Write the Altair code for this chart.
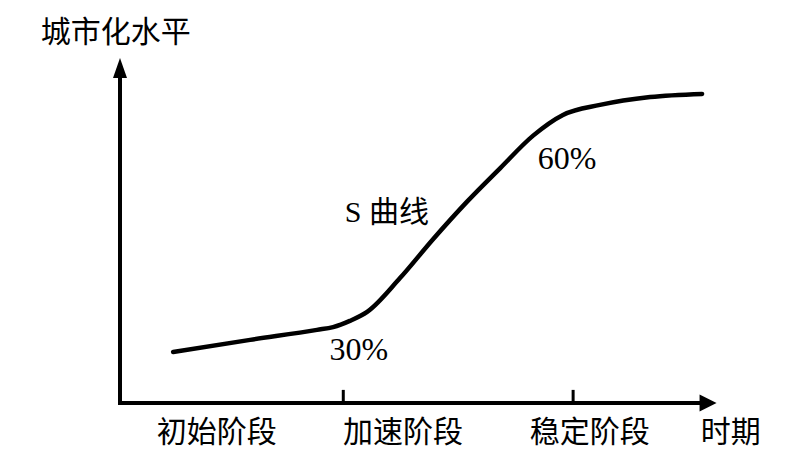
import altair as alt
import pandas as pd

# S-curve of urbanization (schematic): time (0-100) vs urbanization level (0-100)
curve_time = [8.9, 21.8, 33.0, 35.7, 38.5, 41.4, 46.9, 52.4, 58.1, 63.7, 69.2, 74.2, 80.4, 88.8, 97.5]
curve_level = [14.8, 18.3, 21.2, 22.0, 23.8, 26.4, 36.2, 47.4, 58.3, 68.1, 77.5, 83.5, 86.4, 88.7, 89.6]

stage_labels = ["初始阶段", "加速阶段", "稳定阶段"]
stage_label_x = [16.2, 47.4, 78.7]
tick_x = [37.4, 75.9]

pct_labels = ["30%", "60%"]
pct_x = [40.0, 74.9]
pct_y = [15.4, 70.7]

y_title = "城市化水平"
x_title = "时期"
curve_name = "S 曲线"

X_MAX = 100
Y_MAX = 100

xs = alt.Scale(domain=[0, X_MAX], nice=False, zero=False)
ys = alt.Scale(domain=[0, Y_MAX], nice=False, zero=False)

def X(field):
    return alt.X(field, type="quantitative", scale=xs, axis=None)

def Y(field):
    return alt.Y(field, type="quantitative", scale=ys, axis=None)

curve_df = pd.DataFrame({"t": curve_time, "v": curve_level})
curve = alt.Chart(curve_df).mark_line(
    color="black", strokeWidth=4.5, interpolate="monotone", strokeCap="round"
).encode(x=X("t"), y=Y("v"))

axes_df = pd.DataFrame({"x": [0, 0], "y": [0, 0], "x2": [0, 98], "y2": [95, 0]})
axes = alt.Chart(axes_df).mark_rule(color="black", strokeWidth=4, strokeCap="square").encode(
    x=X("x"), y=Y("y"), x2="x2", y2="y2"
)

ticks_df = pd.DataFrame({"x": tick_x, "y": [0, 0], "y2": [3.8, 3.8]})
ticks = alt.Chart(ticks_df).mark_rule(color="black", strokeWidth=3).encode(
    x=X("x"), y=Y("y"), y2="y2"
)

yarrow = alt.Chart(pd.DataFrame({"x": [0], "y": [97.1]})).mark_point(
    shape="M0,-1L-0.7,1L0.7,1Z", filled=True, color="black", opacity=1, size=400
).encode(x=X("x"), y=Y("y"))

xarrow = alt.Chart(pd.DataFrame({"x": [98.5], "y": [0]})).mark_point(
    shape="M1,0L-1,-1L-1,1Z", filled=True, color="black", opacity=1, size=289
).encode(x=X("x"), y=Y("y"))

cjk = "Noto Sans CJK SC"
serif = "Liberation Serif"

stage_df = pd.DataFrame({"x": stage_label_x + [102.3], "y": [-8.7] * 4, "label": stage_labels + [x_title]})
stage_text = alt.Chart(stage_df).mark_text(
    font=cjk, fontSize=30, color="black", align="center", baseline="middle"
).encode(x=X("x"), y=Y("y"), text="label:N")

title_df = pd.DataFrame({"x": [-0.7], "y": [107.2], "label": [y_title]})
title_text = alt.Chart(title_df).mark_text(
    font=cjk, fontSize=30, color="black", align="center", baseline="middle"
).encode(x=X("x"), y=Y("y"), text="label:N")

pct_df = pd.DataFrame({"x": pct_x, "y": pct_y, "label": pct_labels})
pct_text = alt.Chart(pct_df).mark_text(
    font=serif, fontSize=32, color="black", align="center", baseline="middle"
).encode(x=X("x"), y=Y("y"), text="label:N")

name_df = pd.DataFrame({"x": [44.7], "y": [55.1], "label": [curve_name]})
name_text = alt.Chart(name_df).mark_text(
    font="Liberation Serif, Noto Sans CJK SC", fontSize=30, color="black",
    align="center", baseline="middle"
).encode(x=X("x"), y=Y("y"), text="label:N")

chart = alt.layer(
    axes, ticks, yarrow, xarrow, curve, stage_text, title_text, pct_text, name_text
).properties(
    width=597, height=345,
    autosize=alt.AutoSizeParams(type="none"),
    padding={"left": 112, "top": 50, "right": 73, "bottom": 54},
    background="white",
).configure_view(stroke=None)

chart.save("out.html", embed_options={"renderer": "svg", "actions": False})
